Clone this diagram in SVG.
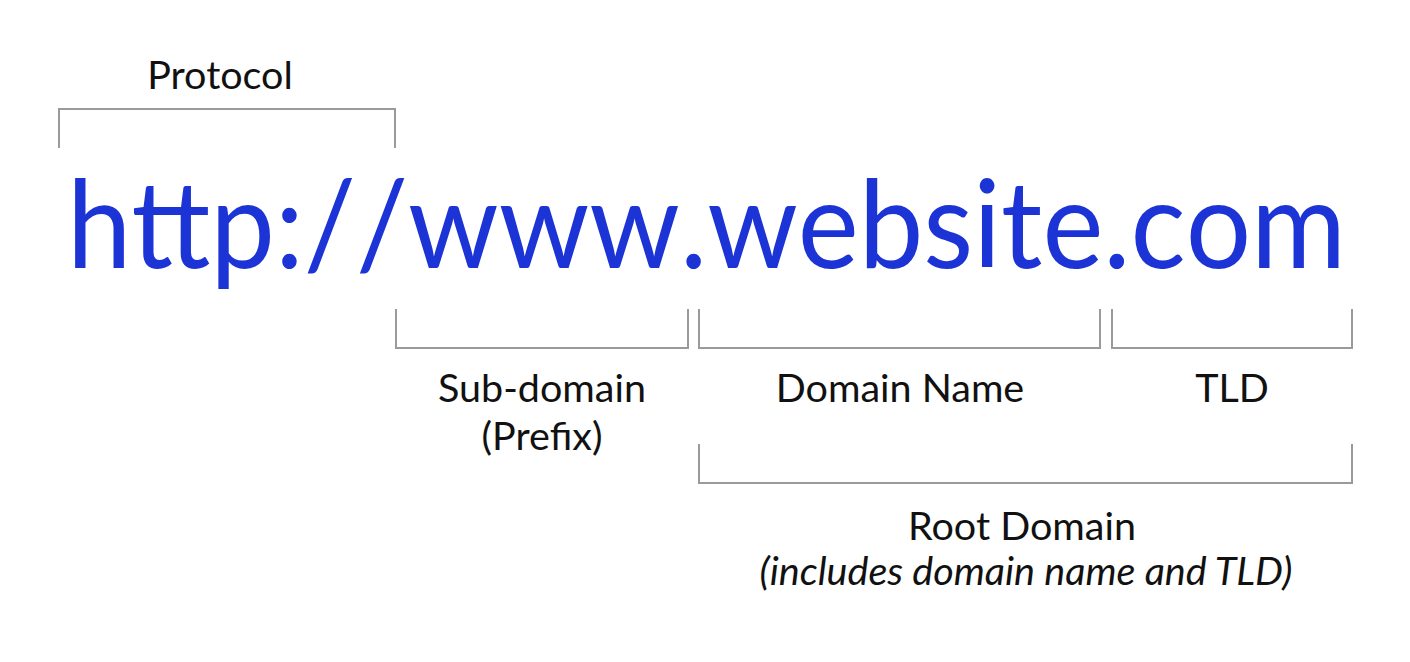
<svg xmlns="http://www.w3.org/2000/svg" width="1410" height="662" viewBox="0 0 1410 662">
<style>
.lbl{font-family:Lato,"Liberation Sans",sans-serif;font-size:39.5px;fill:#111;text-anchor:middle}
.url{font-family:Lato,"Liberation Sans",sans-serif;font-size:122px;fill:#1c34d6;font-kerning:none}
.br{fill:none;stroke:#9a9a9a;stroke-width:2}
</style>
<rect width="1410" height="662" fill="#fff"/>
<g id="url"><text class="url" x="67" y="268" textLength="1279" lengthAdjust="spacingAndGlyphs">http://www.website.com</text></g>
<g id="connectors">
<path class="br" d="M59,148 V109 H395 V148"/>
<path class="br" d="M396,309 V348 H688 V309"/>
<path class="br" d="M699,309 V348 H1100 V309"/>
<path class="br" d="M1112,309 V348 H1352 V309"/>
<path class="br" d="M699,444 V483 H1352 V444"/>
</g>
<g id="protocol"><text class="lbl" x="220" y="89">Protocol</text></g>
<g id="subdomain"><text class="lbl" x="542" y="402">Sub-domain</text><text class="lbl" x="542" y="450">(Prefix)</text></g>
<g id="domainname"><text class="lbl" x="900" y="402">Domain Name</text></g>
<g id="tld"><text class="lbl" x="1232" y="402">TLD</text></g>
<g id="rootdomain"><text class="lbl" x="1022" y="540">Root Domain</text><text class="lbl" x="1026" y="585" font-style="italic">(includes domain name and TLD)</text></g>
</svg>
